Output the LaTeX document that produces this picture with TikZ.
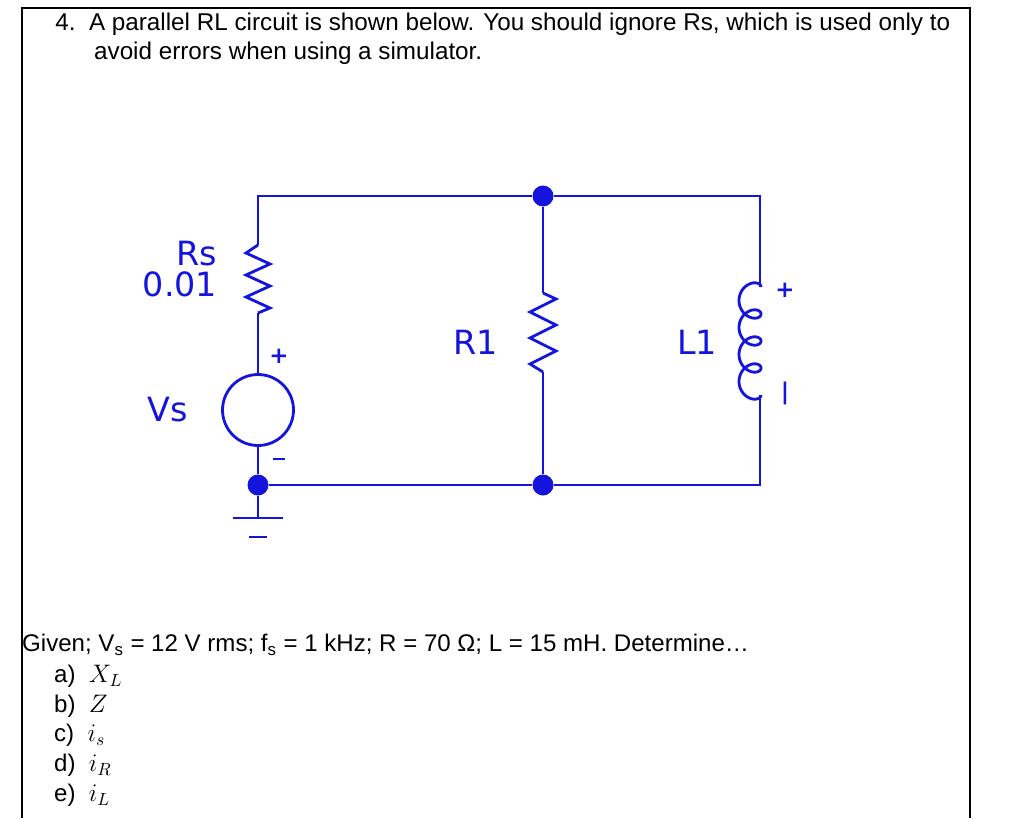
\documentclass[tikz,border=0pt]{standalone}
\usepackage{fontspec}
\setmainfont{Liberation Sans}
\newfontfamily\schfont{DejaVu Sans}
\definecolor{wireblue}{RGB}{20, 20, 220}
\usetikzlibrary{positioning,calc}

\begin{document}
\begin{tikzpicture}[x=0.02cm, y=-0.02cm]
    % Define styles
    \tikzset{wire/.style={draw=wireblue, line width=1.6pt},
             dot/.style={circle, fill=wireblue, inner sep=0pt, minimum width=0.38cm, minimum height=0.42cm},
             part/.style={font=\schfont\fontsize{19}{21}\selectfont, text=wireblue},
             sign/.style={font=\schfont\bfseries\fontsize{13}{14}\selectfont, text=wireblue},
             task/.style={anchor=west, font=\fontsize{13.7}{16}\selectfont}}
    \useasboundingbox (0,0) rectangle (1023,818);

    % Frame and question
    \draw[line width=0.6pt] (22,818) -- (22,8) -- (970,8) -- (970,818);
    \node[anchor=north west, align=left, font=\fontsize{13.8}{16.5}\selectfont, inner sep=0pt] (q) at (55,13)
        {4.\ \ A parallel RL circuit is shown below. You should ignore Rs, which is used only to\\
         \hspace{1.6em}avoid errors when using a simulator.};

    % Corners
    \coordinate (tl) at (258,196);
    \coordinate (tr) at (760,196);
    \coordinate (br) at (760,485);
    \node[dot] (ntop) at (543,196) {};
    \node[dot] (nbot) at (543,485) {};
    \node[dot] (ngnd) at (258,485) {};
    \node[circle, draw=wireblue, line width=1.6pt, minimum width=1.32cm, minimum height=1.42cm, inner sep=0pt] (vs) at (258,410) {};
    \coordinate (rst) at (258,245);
    \coordinate (rsb) at (258,313);
    \coordinate (r1t) at (543,293);
    \coordinate (r1b) at (543,372);
    \coordinate (l1t) at (760,287);
    \coordinate (l1b) at (760,395);
    \coordinate (gnd) at (258,518);

    % Wires
    \draw[wire] (ngnd) -- (vs.south);
    \draw[wire] (vs.north) -- (rsb);
    \draw[wire] (rsb) -- ++(12,-5) -- ++(-24,-11) -- ++(24,-11) -- ++(-24,-11) -- ++(24,-11) -- ++(-24,-11) -- (rst);
    \draw[wire] (rst) -- (tl) -- (ntop) -- (tr) -- (l1t);
    \draw[wire] (ntop) -- (r1t);
    \draw[wire] (r1t) -- ++(13,6) -- ++(-26,13) -- ++(26,13) -- ++(-26,13) -- ++(26,13) -- ++(-26,13) -- (r1b);
    \draw[wire] (r1b) -- (nbot);
    \draw[wire] plot[domain=0:1440, samples=200, smooth] ({750+11*cos(\x)}, {287+0.075*\x-10*sin(\x)});
    \draw[wire] (l1b) -- (br) -- (nbot) -- (ngnd) -- (gnd);
    \draw[wire] ($(gnd)+(-25,0)$) -- ($(gnd)+(25,0)$);
    \draw[wire] ($(gnd)+(-9,19)$) -- ($(gnd)+(9,19)$);

    % Labels
    \node[part, align=right] (rslbl) at (180,269) {Rs\\[-3pt]0.01};
    \node[part] (vslbl) at (168,410) {Vs};
    \node[part] (r1lbl) at (476,342) {R1};
    \node[part] (l1lbl) at (697,342) {L1};
    \node[sign] at (279,356) {+};
    \node[sign] at (279,462) {\rule[0.5ex]{0.5em}{1.4pt}};
    \node[sign] at (785,290) {+};
    \node[sign] at (785,393) {|};

    % Given data and tasks
    \node[task] (given) at (16,645) {Given; V\textsubscript{s} = 12 V rms; f\textsubscript{s} = 1 kHz; R = 70 Ω; L = 15 mH. Determine…};
    \node[task] (ta) at (48,676) {a)\ \ $X_L$};
    \node[task] (tb) at (48,706) {b)\ \ $Z$};
    \node[task] (tc) at (48,735) {c)\ \ $i_s$};
    \node[task] (td) at (48,765) {d)\ \ $i_R$};
    \node[task] (te) at (48,795) {e)\ \ $i_L$};
\end{tikzpicture}
\end{document}
